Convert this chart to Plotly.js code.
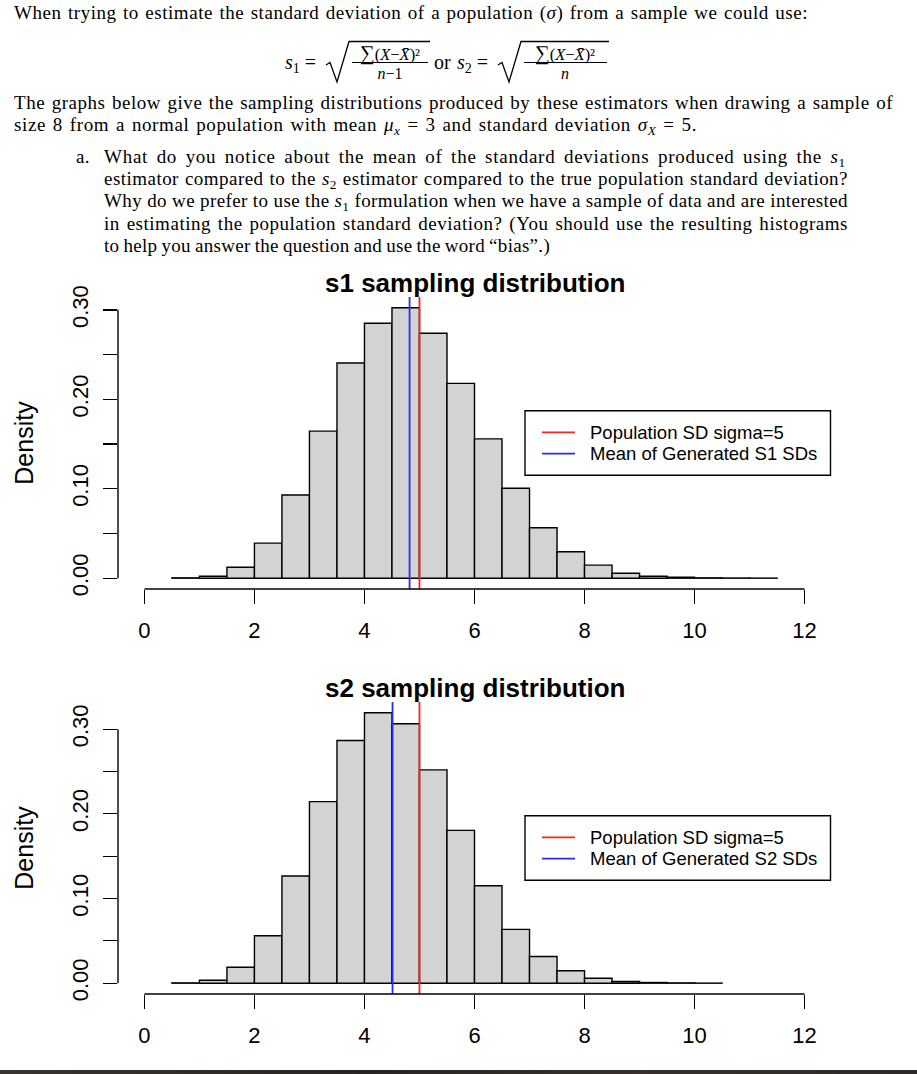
<!DOCTYPE html>
<html>
<head>
<meta charset="utf-8">
<script src="https://cdn.plot.ly/plotly-3.0.1.min.js"></script>
<style>
html,body{margin:0;padding:0;background:#fff;}
body{width:917px;height:1074px;position:relative;overflow:hidden;}
#chart{position:absolute;left:0;top:0;width:917px;height:1074px;}
.t{position:absolute;z-index:5;font-family:"Liberation Serif","Times New Roman",serif;color:#000;white-space:nowrap;line-height:1;}
.t sub{font-size:0.7em;vertical-align:-0.28em;line-height:0;}
#overlay{position:absolute;left:0;top:0;width:917px;height:270px;z-index:6;pointer-events:none;}
#bottombar{position:absolute;left:0;top:1070px;width:917px;height:4px;z-index:7;background:linear-gradient(90deg,#3b332d,#2a2420 40%,#3a2f2a 70%,#2e2a26);}
</style>
</head>
<body>
<div id="chart"></div>
<div id="text"></div>
<svg id="overlay" width="917" height="270">
  <path d="M326 65 L330 62.5 L337 82 L349 41.5 L430 41.5" fill="none" stroke="#000" stroke-width="1.3"/>
  <path d="M498 65 L502 62.5 L509 82 L521 41.5 L609 41.5" fill="none" stroke="#000" stroke-width="1.3"/>
  <line x1="352" y1="62.5" x2="428" y2="62.5" stroke="#000" stroke-width="1"/>
  <line x1="524" y1="62.5" x2="607" y2="62.5" stroke="#000" stroke-width="1"/>
</svg>
<div id="bottombar"></div>
<script>
// ---------------- chart data ----------------
const binStart = 0.5;
const binWidth = 0.5;
const s1Density = [0.0004,0.0022,0.0123,0.0392,0.0930,0.1644,0.2406,0.2851,0.3023,0.2739,0.2178,0.1558,0.1005,0.0564,0.0295,0.0146,0.0056,0.0022,0.0011,0.0004,0.0002,0.0001];
const s2Density = [0.0004,0.0035,0.0189,0.0560,0.1265,0.2144,0.2866,0.3193,0.3063,0.2519,0.1805,0.1151,0.0635,0.0315,0.0146,0.0059,0.0020,0.0008,0.0004,0.0001];
const populationSD = 5;
const s1MeanSD = 4.82;
const s2MeanSD = 4.51;
const xTickVals = [0,2,4,6,8,10,12];
const xLimits = [0,12];
const yTickVals = [0,0.05,0.10,0.15,0.20,0.25,0.30];
const yTickText = ['0.00','','0.10','','0.20','','0.30'];
const panelTitles = ['s1 sampling distribution','s2 sampling distribution'];
const legendLabelsS1 = ['Population SD sigma=5','Mean of Generated S1 SDs'];
const legendLabelsS2 = ['Population SD sigma=5','Mean of Generated S2 SDs'];
const yAxisTitle = 'Density';

// ---------------- prose text (HTML) ----------------
const SERIF_SIZE = 19;
const LS = 0.4;
const textHost = document.getElementById('text');
function put(html, x, baseline, size, opts) {
  opts = opts || {};
  const el = document.createElement('div');
  el.className = 't';
  el.innerHTML = html;
  el.style.fontSize = size + 'px';
  el.style.top = (baseline - 0.8375 * size) + 'px';
  el.style.left = x + 'px';
  if (opts.center) el.style.transform = 'translateX(-50%)';
  el.dataset.ls = opts.ls || 0;
  el.style.letterSpacing = (opts.ls || 0) + 'px';
  if (opts.w) el.dataset.w = opts.w;
  textHost.appendChild(el);
  return el;
}
put('When trying to estimate the standard deviation of a population (<i>σ</i>) from a sample we could use:', 14, 19, SERIF_SIZE, {ls:LS, w:794});
put('The graphs below give the sampling distributions produced by these estimators when drawing a sample of', 14, 109, SERIF_SIZE, {ls:LS, w:879});
put('size 8 from a normal population with mean <i>μ</i><sub><i>x</i></sub> = 3 and standard deviation <i>σ</i><sub><i>X</i></sub> = 5.', 14, 131, SERIF_SIZE, {ls:LS, w:683});
put('a.', 76, 163, SERIF_SIZE, {ls:LS});
put('What do you notice about the mean of the standard deviations produced using the <i>s</i><sub>1</sub>', 104, 163, SERIF_SIZE, {ls:LS, w:742});
put('estimator compared to the <i>s</i><sub>2</sub> estimator compared to the true population standard deviation?', 104, 185, SERIF_SIZE, {ls:LS, w:744});
put('Why do we prefer to use the <i>s</i><sub>1</sub> formulation when we have a sample of data and are interested', 104, 207, SERIF_SIZE, {ls:LS, w:744});
put('in estimating the population standard deviation? (You should use the resulting histograms', 104, 230, SERIF_SIZE, {ls:LS, w:744});
put('to help you answer the question and use the word “bias”.)', 104, 252, SERIF_SIZE, {ls:LS, w:446});

// formula
put('<i>s</i><sub>1</sub> =', 285, 69, 20);
put('<span style="font-size:1.25em">∑</span>(<i>X</i>−<i>X̄</i>)²', 390, 57, 16.5, {center:true});
put('<i>n</i>−1', 390, 79, 16, {center:true});
put('or', 434, 69, 20);
put('<i>s</i><sub>2</sub> =', 457, 69, 20);
put('<span style="font-size:1.25em">∑</span>(<i>X</i>−<i>X̄</i>)²', 565, 57, 16.5, {center:true});
put('<i>n</i>', 565, 79, 16, {center:true});

function justify() {
  document.querySelectorAll('.t[data-w]').forEach(el => {
    const baseLS = +el.dataset.ls;
    const target = +el.dataset.w;
    const txt = el.textContent;
    const spaces = (txt.match(/ /g) || []).length;
    const chars = txt.length;
    el.style.letterSpacing = baseLS + 'px';
    el.style.wordSpacing = '0px';
    let w = el.getBoundingClientRect().width;
    let diff = target - w;
    let ls = baseLS + diff * 0.4 / chars;
    let ws = spaces ? diff * 0.6 / spaces : 0;
    el.style.letterSpacing = ls + 'px';
    el.style.wordSpacing = ws + 'px';
    // refine
    w = el.getBoundingClientRect().width;
    diff = target - w;
    if (spaces) el.style.wordSpacing = (ws + diff / spaces) + 'px';
  });
}
justify();
if (document.fonts && document.fonts.ready) document.fonts.ready.then(justify);

// ---------------- plotly chart ----------------
const W = 917, H = 1074, ML = 118, MR = 86;
const px2x = px => (px - ML) / (W - ML - MR);
const py2y = py => 1 - py / H;
const SANS = '"Liberation Sans", Arial, Helvetica, sans-serif';

const panels = [
  {dens: s1Density, mean: s1MeanSD, xa: 'x', ya: 'y', top: 297, bot: 589, title: panelTitles[0], labels: legendLabelsS1},
  {dens: s2Density, mean: s2MeanSD, xa: 'x2', ya: 'y2', top: 702, bot: 994, title: panelTitles[1], labels: legendLabelsS2}
];

const xPad = 0.04 * (xLimits[1] - xLimits[0]);
const xRange = [xLimits[0] - xPad, xLimits[1] + xPad];

const traces = [];
const shapes = [];
const annotations = [];
const layout = {
  width: W, height: H,
  margin: {l: ML, r: MR, t: 0, b: 0, autoexpand: false},
  paper_bgcolor: '#fff', plot_bgcolor: '#fff',
  showlegend: false,
  bargap: 0,
  font: {family: SANS, color: '#000'}
};

panels.forEach((p, i) => {
  const centers = p.dens.map((_, k) => binStart + binWidth * (k + 0.5));
  const maxD = Math.max(...p.dens);
  const yRange = [-0.04 * maxD, 1.04 * maxD];
  traces.push({
    type: 'bar', x: centers, y: p.dens, width: binWidth,
    xaxis: p.xa, yaxis: p.ya,
    marker: {color: '#d3d3d3', line: {color: '#000', width: 1.4}},
    hoverinfo: 'skip'
  });
  traces.push({
    type: 'scatter', mode: 'lines', x: [populationSD, populationSD], y: yRange,
    xaxis: p.xa, yaxis: p.ya, line: {color: '#ff2020', width: 1.8}, hoverinfo: 'skip'
  });
  traces.push({
    type: 'scatter', mode: 'lines', x: [p.mean, p.mean], y: yRange,
    xaxis: p.xa, yaxis: p.ya, line: {color: '#2a2aff', width: 1.8}, hoverinfo: 'skip'
  });

  const xKey = i === 0 ? 'xaxis' : 'xaxis2';
  const yKey = i === 0 ? 'yaxis' : 'yaxis2';
  layout[xKey] = {
    domain: [0, 1], anchor: p.ya, range: xRange,
    tickmode: 'array', tickvals: xTickVals, ticktext: xTickVals.map(String),
    ticks: 'outside', ticklen: 14, tickwidth: 1.3, tickcolor: '#000',
    ticklabelstandoff: 8,
    showline: false, showgrid: false, zeroline: false, fixedrange: true,
    tickfont: {family: SANS, size: 22, color: '#000'}
  };
  layout[yKey] = {
    domain: [py2y(p.bot), py2y(p.top)], anchor: p.xa, range: yRange,
    tickmode: 'array', tickvals: yTickVals, ticktext: yTickText, tickangle: -90,
    ticks: 'outside', ticklen: 14, tickwidth: 1.3, tickcolor: '#000',
    ticklabelstandoff: 6,
    showline: false, showgrid: false, zeroline: false, fixedrange: true,
    tickfont: {family: SANS, size: 22, color: '#000'},
    title: {text: yAxisTitle, font: {family: SANS, size: 25, color: '#000'}, standoff: 27}
  };
  const xr = i === 0 ? 'x' : 'x2';
  const yr = i === 0 ? 'y' : 'y2';
  // detached R-style axis lines
  shapes.push({type: 'line', xref: xr, yref: yr + ' domain', x0: xTickVals[0], x1: xTickVals[xTickVals.length - 1], y0: 0, y1: 0, line: {color: '#000', width: 1.4}});
  shapes.push({type: 'line', xref: xr + ' domain', yref: yr, x0: 0, x1: 0, y0: yTickVals[0], y1: yTickVals[yTickVals.length - 1], line: {color: '#000', width: 1.4}});

  // legend (R style box)
  const cy = (p.top + p.bot) / 2;
  const lTop = cy - 32.2, lBot = cy + 32.2;
  shapes.push({type: 'rect', xref: 'paper', yref: 'paper', x0: px2x(525), x1: px2x(830.5), y0: py2y(lBot), y1: py2y(lTop),
    fillcolor: '#fff', line: {color: '#000', width: 1.4}, layer: 'above'});
  const rows = [cy - 10.6, cy + 10.7];
  const cols = ['#ff2020', '#2a2aff'];
  rows.forEach((ry, k) => {
    shapes.push({type: 'line', xref: 'paper', yref: 'paper', x0: px2x(542), x1: px2x(575), y0: py2y(ry), y1: py2y(ry),
      line: {color: cols[k], width: 1.8}, layer: 'above'});
    annotations.push({xref: 'paper', yref: 'paper', x: px2x(588), y: py2y(ry), xanchor: 'left', yanchor: 'middle',
      text: p.labels[k], showarrow: false, font: {family: SANS, size: 18.5, color: '#000'}});
  });
  // panel title
  annotations.push({xref: 'paper', yref: 'paper', x: 0.5, y: py2y(p.top - 14), xanchor: 'center', yanchor: 'middle',
    text: p.title, showarrow: false, font: {family: SANS, size: 26, color: '#000', weight: 'bold'}});
});
layout.shapes = shapes;
layout.annotations = annotations;

Plotly.newPlot('chart', traces, layout, {displayModeBar: false, staticPlot: true});
</script>
</body>
</html>
